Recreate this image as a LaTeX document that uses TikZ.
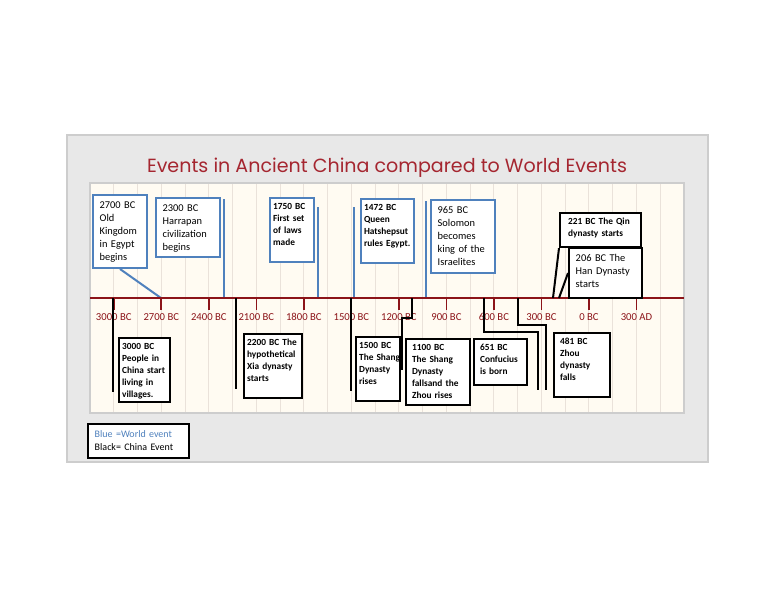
\documentclass[tikz,border=0pt]{standalone}
\usepackage{fontspec}
\setmainfont{Carlito}
\newfontfamily\titlefont{Poppins}
\usetikzlibrary{calc}
\definecolor{worldblue}{RGB}{79,129,189}
\definecolor{axisred}{RGB}{140,20,25}
\definecolor{titlered}{RGB}{165,38,48}
\definecolor{panelgray}{RGB}{232,232,232}
\definecolor{paneledge}{RGB}{205,205,205}
\definecolor{cream}{RGB}{255,251,242}
\definecolor{gridline}{RGB}{234,226,218}
\tikzset{
 evbox/.style={fill=white,anchor=north west,align=left},
 world/.style={evbox,draw=worldblue,line width=1.5pt},
 china/.style={evbox,draw=black,line width=1.6pt},
 txtreg/.style={font=\fontsize{7.8}{9.8}\selectfont,inner xsep=5pt,inner ysep=4.5pt,text height=5.5pt},
 txtbold/.style={font=\fontsize{7}{9}\selectfont\bfseries,inner xsep=2.3pt,inner ysep=3.6pt,text height=4.9pt},
 worldline/.style={draw=worldblue,line width=1.5pt},
 chinaline/.style={draw=black,line width=1.5pt},
 ticklabel/.style={text=axisred,font=\fontsize{8}{9}\selectfont,inner sep=0}
}

\begin{document}
\begin{tikzpicture}[x=0.75pt,y=-0.75pt]
\useasboundingbox (0,0) rectangle (768,594);
\fill[white] (0,0) rectangle (768,594);
% panel and chart area
\draw[paneledge,fill=panelgray,line width=1pt] (67,135) rectangle (708,462);
\node[text=titlered,font=\titlefont\fontsize{14.3}{16}\selectfont] (title) at (387,167.5) {Events in Ancient China compared to World Events};
\draw[paneledge,fill=cream,line width=.8pt] (90,183) rectangle (684,413);
\foreach \k in {1,...,24}
  \draw[gridline,line width=.8pt] (90+23.76*\k,184) -- (90+23.76*\k,412);

% points on the time line
\coordinate (t2700) at (161,298);
\coordinate (t2300) at (224,298);
\coordinate (w2300) at (224,199);
\coordinate (t1750) at (318,298);
\coordinate (w1750) at (318,207);
\coordinate (t1472) at (354,298);
\coordinate (w1472) at (354,207);
\coordinate (t965) at (426,298);
\coordinate (w965) at (426,201);
\coordinate (t221) at (553,298);
\coordinate (t206) at (559,298);
\coordinate (c3000) at (113,298);
\coordinate (e3000) at (113,392);
\coordinate (c2200) at (236,298);
\coordinate (e2200) at (236,389);
\coordinate (c1500) at (351,298);
\coordinate (e1500) at (351,391);
\coordinate (c1100) at (412,298);
\coordinate (e1100) at (402,370);
\coordinate (c651) at (484,298);
\coordinate (e651) at (538,390);
\coordinate (c481) at (518,298);
\coordinate (e481) at (546,390);

% world events
\node[world,txtreg,text width=30.5pt,text depth=40.25pt] (b2700) at (92,194) {2700 BC\\Old\\Kingdom\\in Egypt\\begins};
\node[world,txtreg,text width=38pt,text depth=29.75pt] (b2300) at (155,197) {2300 BC\\Harrapan\\civilization\\begins};
\node[world,txtbold,text width=28.4pt,text depth=35.9pt] (b1750) at (269,197) {1750 BC\\First set\\of laws\\made};
\node[world,txtbold,text width=35.15pt,text depth=35.9pt] (b1472) at (360,198) {1472 BC\\Queen\\Hatshepsut\\rules Egypt.};
\node[world,txtreg,text width=38pt,text depth=40.25pt] (b965) at (430,199) {965 BC\\Solomon\\becomes\\king of the\\Israelites};
\draw[worldline] (b2700.south) -- (t2700);
\draw[worldline] (t2300) -- (w2300);
\draw[worldline] (t1750) -- (w1750);
\draw[worldline] (t1472) -- (w1472);
\draw[worldline] (t965) -- (w965);

% axis
\draw[axisred,line width=1.5pt] (90,298) -- (684,298);
\foreach \lab [count=\i] in {3000 BC,2700 BC,2400 BC,2100 BC,1800 BC,1500 BC,1200 BC,900 BC,600 BC,300 BC,0 BC,300 AD}{
  \draw[axisred,line width=1.2pt] (66.24+47.52*\i,298) -- (66.24+47.52*\i,310);
  \node[ticklabel] (lab\i) at (66.24+47.52*\i,317) {\lab};
}

% china events
\draw[chinaline] (c3000) -- (e3000);
\draw[chinaline] (c2200) -- (e2200);
\draw[chinaline] (c1500) -- (e1500);
\draw[chinaline] (c1100) -- ++(0,20) -| (e1100);
\draw[chinaline] (c651) -- ++(0,34) -| (e651);
\draw[chinaline] (c481) -- ++(0,27) -| (e481);
\node[china,txtbold,inner xsep=6pt,text width=48.75pt,text depth=13.4pt] (b221) at (559,212) {221 BC The Qin\\dynasty starts};
\node[china,txtreg,text width=44.75pt,text depth=23pt] (b206) at (568,247) {206 BC The\\Han Dynasty\\starts};
\draw[chinaline] (b221.south west) -- (t221);
\draw[chinaline] (b206.west) -- (t206);
\node[china,txtbold,text width=33.65pt,text depth=35.9pt] (b3000) at (118,337) {3000 BC\\People in\\China start\\living in\\villages.};
\node[china,txtbold,text width=38.9pt,text depth=35.9pt] (b2200) at (243,333) {2200 BC The\\hypothetical\\Xia dynasty\\starts};
\node[china,txtbold,text width=28.4pt,text depth=35.9pt] (b1500) at (355,336) {1500 BC\\The~Shang\\Dynasty\\rises};
\node[china,txtbold,inner xsep=4.5pt,text width=39pt,text depth=37.4pt] (b1100) at (405,338) {1100 BC\\The Shang\\Dynasty\\fallsand the\\Zhou rises};
\node[china,txtbold,inner xsep=4.5pt,text width=30.75pt,text depth=22.4pt] (b651) at (473,338) {651 BC\\Confucius\\is born};
\node[china,txtbold,inner xsep=4.5pt,text width=33pt,text depth=35.9pt] (b481) at (553,332) {481 BC\\Zhou\\dynasty\\falls};

% key
\node[china,txtreg,font=\fontsize{7.5}{9.75}\selectfont,text width=65.75pt,text depth=11pt] (key) at (87,423) {\textcolor{worldblue}{Blue =World event}\\Black= China Event};
\end{tikzpicture}
\end{document}
